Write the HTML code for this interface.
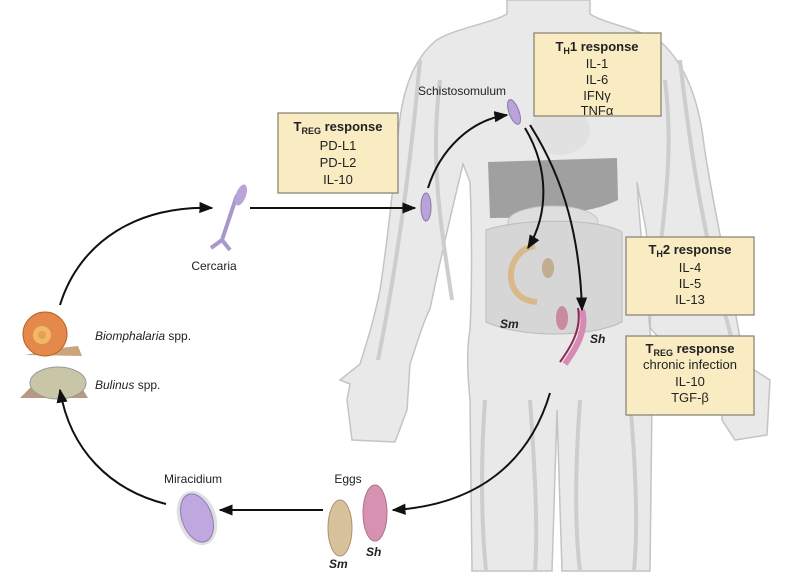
<!DOCTYPE html>
<html><head><meta charset="utf-8"><style>
body{margin:0;background:#fff}
svg{display:block}
text{font-family:"Liberation Sans",sans-serif;fill:#222}
.b{font-weight:bold}
</style></head><body>
<svg width="787" height="579" viewBox="0 0 787 579" xmlns="http://www.w3.org/2000/svg">
<defs><marker id="ah" viewBox="0 0 10 10" refX="9" refY="5" markerWidth="7" markerHeight="7" orient="auto"><path d="M0,1 L10,5 L0,9 Z" fill="#111"/></marker></defs>
<!-- body -->
<path d="M507,0 L507,14 C490,24 445,30 432,44 C405,70 400,110 397,145 C392,200 386,250 380,290 C374,320 366,345 360,364 L340,380 L350,384 L347,400 L352,440 L395,442 L407,410 L410,364 C418,340 424,320 430,309 C440,260 452,210 463,164 L470,182 C472,230 472,290 470,330 C466,350 468,380 470,400 L472,571 L552,571 L557,410 L562,571 L650,571 L652,400 C654,370 652,350 650,330 C646,290 640,230 637,182 L646,230 C650,270 652,300 650,327 C660,345 705,365 723,366 L722,420 L735,440 L767,435 L770,380 L745,364 C738,330 734,300 730,290 C724,250 712,200 704,145 C700,110 690,70 663,44 C645,30 605,24 590,14 L590,0 Z" fill="#e9e9e9" stroke="#c4c4c4" stroke-width="1.5"/>
<g fill="none" stroke="#cdcdcd" stroke-width="4">
<path d="M420,60 C412,150 400,250 378,360"/><path d="M680,60 C690,150 705,250 738,360"/>
<path d="M485,400 C480,470 482,530 486,571"/><path d="M530,400 C535,470 538,530 535,571"/>
<path d="M580,400 C575,470 575,530 580,571"/><path d="M630,400 C636,470 638,530 634,571"/>
<path d="M440,80 C430,160 440,220 452,300"/><path d="M665,80 C675,160 662,220 655,300"/>
</g>
<!-- organs -->
<path d="M488,162 L617,158 L618,200 C598,210 560,218 490,218 Z" fill="#a0a0a0"/>
<ellipse cx="553" cy="222" rx="45" ry="16" fill="#dedede" stroke="#c4c4c4"/>
<path d="M486,230 C520,218 600,218 622,232 L622,322 C590,338 520,338 486,322 Z" fill="#d6d6d6" stroke="#bcbcbc"/>
<ellipse cx="560" cy="130" rx="30" ry="25" fill="#e1e1e1"/>
<!-- worms -->
<path d="M535,246 C505,250 500,300 537,302" fill="none" stroke="#d7b98a" stroke-width="6"/>
<ellipse cx="548" cy="268" rx="6" ry="10" fill="#bfae90"/>
<ellipse cx="562" cy="318" rx="6" ry="12" fill="#c98aa0"/>
<path d="M582,310 C588,330 575,350 565,364" fill="none" stroke="#d88ab5" stroke-width="6"/>
<path d="M578,308 C582,330 570,348 560,362" fill="none" stroke="#8a2a55" stroke-width="2"/>
<ellipse cx="426" cy="207" rx="5" ry="14" fill="#b9a3d8" stroke="#8a78a8"/>
<ellipse cx="514" cy="112" rx="5" ry="13" fill="#b9a3d8" stroke="#8a78a8" transform="rotate(-20 514 112)"/>
<path d="M237,195 L222,240 M222,240 L211,248 M222,240 L230,250" stroke="#a898cc" stroke-width="4" fill="none"/>
<ellipse cx="241" cy="195" rx="5" ry="11" fill="#b9a3d8" transform="rotate(20 241 195)"/>
<!-- snails -->
<path d="M25,355 L82,356 L78,346 L60,348 Z" fill="#caa57c"/>
<circle cx="45" cy="334" r="22" fill="#e5894a" stroke="#b8602a"/><circle cx="42" cy="335" r="9" fill="#f3b76a"/><circle cx="42" cy="335" r="4" fill="#e5a050"/>
<path d="M20,398 L88,398 L82,388 L30,388 Z" fill="#b99884"/>
<ellipse cx="58" cy="383" rx="28" ry="16" fill="#c9c6a8" stroke="#999"/>
<!-- miracidium and eggs -->
<ellipse cx="197" cy="518" rx="19" ry="28" fill="#e0e0e0" transform="rotate(-20 197 518)"/>
<ellipse cx="197" cy="518" rx="15" ry="25" fill="#bfa8e0" stroke="#8f7bb0" transform="rotate(-20 197 518)"/>
<ellipse cx="340" cy="528" rx="12" ry="28" fill="#d8c29c" stroke="#a8936c"/>
<ellipse cx="375" cy="513" rx="12" ry="28" fill="#d692b0" stroke="#b0708a"/>
<!-- arrows -->
<g fill="none" stroke="#111" stroke-width="2" marker-end="url(#ah)">
<path d="M60,305 C80,240 140,205 212,208"/>
<path d="M250,208 L415,208"/>
<path d="M428,188 C440,150 470,120 507,115"/>
<path d="M525,128 C550,170 548,215 528,248"/>
<path d="M530,125 C565,180 580,240 582,310"/>
<path d="M550,393 C530,460 480,505 393,510"/>
<path d="M323,510 L220,510"/>
<path d="M166,504 C110,490 70,450 60,390"/>
</g>
<!-- boxes -->
<g fill="#f9ecc3" stroke="#8c8775" stroke-width="1.3">
<rect x="278" y="113" width="120" height="80"/>
<rect x="534" y="33" width="127" height="83"/>
<rect x="626" y="237" width="128" height="78"/>
<rect x="626" y="336" width="128" height="79"/>
</g>
<g font-size="13" text-anchor="middle">
<text x="338" y="131" class="b">T<tspan font-size="9" dy="3">REG</tspan><tspan dy="-3"> response</tspan></text>
<text x="338" y="150">PD-L1</text><text x="338" y="167">PD-L2</text><text x="338" y="184">IL-10</text>
<text x="597" y="51" class="b">T<tspan font-size="9" dy="3">H</tspan><tspan dy="-3">1 response</tspan></text>
<text x="597" y="68">IL-1</text><text x="597" y="84">IL-6</text><text x="597" y="100">IFNγ</text><text x="597" y="115">TNFα</text>
<text x="690" y="254" class="b">T<tspan font-size="9" dy="3">H</tspan><tspan dy="-3">2 response</tspan></text>
<text x="690" y="272">IL-4</text><text x="690" y="288">IL-5</text><text x="690" y="304">IL-13</text>
<text x="690" y="353" class="b">T<tspan font-size="9" dy="3">REG</tspan><tspan dy="-3"> response</tspan></text>
<text x="690" y="369">chronic infection</text><text x="690" y="386">IL-10</text><text x="690" y="402">TGF-β</text>
<text x="462" y="95" font-size="12">Schistosomulum</text>
<text x="214" y="270" font-size="12">Cercaria</text>
<text x="193" y="483" font-size="12">Miracidium</text>
<text x="348" y="483" font-size="12">Eggs</text>
</g>
<g font-size="12">
<text x="95" y="340"><tspan font-style="italic">Biomphalaria</tspan> spp.</text>
<text x="95" y="389"><tspan font-style="italic">Bulinus</tspan> spp.</text>
<text x="500" y="328" class="b" font-style="italic">Sm</text>
<text x="590" y="343" class="b" font-style="italic">Sh</text>
<text x="329" y="568" class="b" font-style="italic">Sm</text>
<text x="366" y="556" class="b" font-style="italic">Sh</text>
</g>
</svg>
</body></html>
